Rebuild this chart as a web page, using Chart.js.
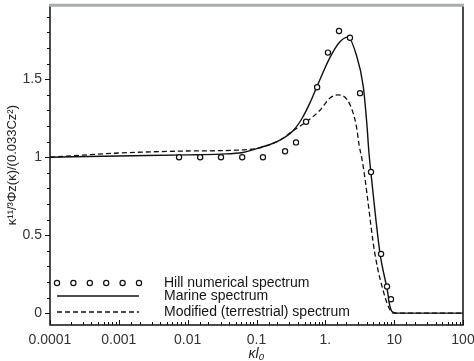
<!DOCTYPE html>
<html><head><meta charset="utf-8">
<script src="https://cdn.jsdelivr.net/npm/chart.js@4"></script>
<style>html,body{margin:0;padding:0;background:#fff}#c{display:block}</style>
</head><body>
<canvas id="c" width="474" height="361" style="width:474px;height:361px"></canvas>
<script>
// ---- data ----
const hillX   = [0.0075, 0.0152, 0.0305, 0.062, 0.124, 0.26, 0.375, 0.525, 0.76, 1.09, 1.58, 2.28, 3.19, 4.61, 6.45, 7.87, 9.0];
const hillY   = [1.0, 1.0, 1.0, 1.0, 1.0, 1.038, 1.095, 1.228, 1.449, 1.671, 1.81, 1.766, 1.411, 0.905, 0.38, 0.171, 0.089];

const marineX = [0.0001, 0.001, 0.01, 0.03, 0.063, 0.11, 0.22, 0.34, 0.46, 0.6, 0.76, 1.17, 1.63, 2.14, 2.8, 3.55, 4.0, 4.3, 4.6, 6.24, 8.1, 8.5, 9.5, 11, 100];
const marineY = [1.0, 1.008, 1.015, 1.02, 1.03, 1.06, 1.11, 1.17, 1.25, 1.35, 1.456, 1.64, 1.74, 1.77, 1.66, 1.456, 1.22, 1.03, 0.9, 0.38, 0.127, 0.063, 0.006, 0, 0];

const modX    = [0.0001, 0.001, 0.01, 0.05, 0.11, 0.22, 0.34, 0.54, 0.83, 1.17, 1.53, 2.07, 2.55, 2.85, 3.1, 3.4, 3.78, 4.04, 5.25, 7.4, 8.5, 9.6, 100];
const modY    = [1.0, 1.027, 1.04, 1.045, 1.06, 1.11, 1.17, 1.23, 1.30, 1.38, 1.40, 1.37, 1.28, 1.19, 1.076, 0.99, 0.86, 0.76, 0.38, 0.10, 0.03, 0, 0];

const seriesLabels = ['Hill numerical spectrum', 'Marine spectrum', 'Modified (terrestrial) spectrum'];

const xTickValues = [0.0001, 0.001, 0.01, 0.1, 1, 10, 100];
const xTickLabels = ['0.0001', '0.001', '0.01', '0.1', '1.', '10', '100'];
const yTickValues = [0, 0.1, 0.2, 0.3, 0.4, 0.5, 0.6, 0.7, 0.8, 0.9, 1.0, 1.1, 1.2, 1.3, 1.4, 1.5, 1.6, 1.7, 1.8, 1.9];
const yLabelValues = [0, 0.5, 1, 1.5];
const yLabelTexts  = ['0', '0.5', '1', '1.5'];

const xTitle = 'κl₀';
const yTitle = 'κ¹¹/³Φz(κ)/(0.033Cz²)';

// ---- helpers ----
const pts = (xs, ys) => xs.map((x, i) => ({x, y: ys[i]}));
const near = (a, b) => Math.abs(a - b) < 1e-9 * Math.max(1, Math.abs(b));
const xLabelFor = v => { const i = xTickValues.findIndex(t => near(v, t)); return i >= 0 ? xTickLabels[i] : ''; };
const yLabelFor = v => { const i = yLabelValues.findIndex(t => Math.abs(v - t) < 1e-6); return i >= 0 ? yLabelTexts[i] : ''; };

const FONT = '"Liberation Sans", Arial, sans-serif';

const framePlugin = {
  id: 'frame',
  afterDraw(chart) {
    const {ctx, chartArea: a, scales: {x, y}} = chart;
    ctx.save();
    ctx.strokeStyle = '#111'; ctx.lineWidth = 1.5;
    ctx.beginPath();
    ctx.moveTo(a.left, a.top); ctx.lineTo(a.left, a.bottom); ctx.lineTo(a.right, a.bottom); ctx.lineTo(a.right, a.top);
    ctx.stroke();
    ctx.strokeStyle = '#a6aeae'; ctx.lineWidth = 3;
    ctx.beginPath(); ctx.moveTo(a.left - 1, a.top); ctx.lineTo(a.right + 1, a.top); ctx.stroke();
    ctx.strokeStyle = '#111'; ctx.lineWidth = 1;
    ctx.beginPath();
    x.ticks.forEach(t => {
      const px = Math.round(x.getPixelForValue(t.value)) + 0.5;
      const major = xLabelFor(t.value) !== '';
      ctx.moveTo(px, a.bottom); ctx.lineTo(px, a.bottom - (major ? 5 : 3));
    });
    y.ticks.forEach(t => {
      const py = Math.round(y.getPixelForValue(t.value)) + 0.5;
      const major = yLabelFor(t.value) !== '';
      ctx.moveTo(a.left, py); ctx.lineTo(a.left - (major ? 5 : 3), py);
    });
    ctx.stroke();
    // legend
    const lx0 = a.left + 7, lx1 = a.left + 89, tx = a.left + 114;
    const rows = [a.bottom - 42, a.bottom - 29, a.bottom - 13];
    const ds = chart.data.datasets;
    ctx.font = '14px ' + FONT; ctx.textBaseline = 'middle'; ctx.textAlign = 'left';
    ctx.lineWidth = 1.2; ctx.strokeStyle = '#111';
    for (let i = 0; i < 6; i++) {
      const cx = lx0 + i * (lx1 - lx0) / 5;
      ctx.beginPath(); ctx.arc(cx, rows[0], 2.6, 0, Math.PI * 2); ctx.fillStyle = '#fff'; ctx.fill(); ctx.stroke();
    }
    ctx.fillStyle = '#151515';
    ctx.fillText(ds[0].label, tx, rows[0]);
    ctx.lineWidth = 1.4;
    ctx.beginPath(); ctx.moveTo(lx0, rows[1]); ctx.lineTo(lx1, rows[1]); ctx.stroke();
    ctx.fillText(ds[1].label, tx, rows[1]);
    ctx.setLineDash([5, 3]);
    ctx.beginPath(); ctx.moveTo(lx0, rows[2]); ctx.lineTo(lx1, rows[2]); ctx.stroke();
    ctx.setLineDash([]);
    ctx.fillText(ds[2].label, tx, rows[2]);
    ctx.restore();
  }
};

new Chart(document.getElementById('c'), {
  type: 'scatter',
  data: {
    datasets: [
      {label: seriesLabels[0], data: pts(hillX, hillY), showLine: false, pointStyle: 'circle', pointRadius: 2.6,
       pointBorderWidth: 1.2, pointBorderColor: '#111', pointBackgroundColor: '#fff', order: 0},
      {label: seriesLabels[1], data: pts(marineX, marineY), showLine: true, borderColor: '#111', borderWidth: 1.4,
       pointRadius: 0, cubicInterpolationMode: 'monotone', order: 2},
      {label: seriesLabels[2], data: pts(modX, modY), showLine: true, borderColor: '#111', borderWidth: 1.3,
       borderDash: [5, 3], pointRadius: 0, cubicInterpolationMode: 'monotone', order: 1}
    ]
  },
  options: {
    responsive: false, animation: false, devicePixelRatio: 1,
    layout: {padding: {top: 1, right: 11, left: 0, bottom: 0}},
    plugins: {legend: {display: false}, tooltip: {enabled: false}},
    scales: {
      x: {
        type: 'logarithmic', min: 0.0001, max: 100,
        grid: {display: true, drawOnChartArea: false, drawTicks: false, color: 'rgba(0,0,0,0)'},
        border: {display: false},
        afterFit: s => { s.height = 36; s.paddingLeft = 0; s.paddingRight = 0; },
        ticks: {autoSkip: false, maxRotation: 0, minRotation: 0, padding: 7, color: '#333',
                font: {family: FONT, size: 14}, callback: v => xLabelFor(v)},
        title: {display: true, text: xTitle, color: '#222', font: {family: FONT, size: 14, style: 'italic', lineHeight: 1},
                padding: {top: 0, bottom: 0}}
      },
      y: {
        type: 'linear', min: -0.076, max: 1.975,
        afterBuildTicks: s => { s.ticks = yTickValues.map(v => ({value: v})); },
        afterFit: s => { s.width = 50; s.paddingTop = 0; s.paddingBottom = 0; },
        grid: {display: true, drawOnChartArea: false, drawTicks: false, color: 'rgba(0,0,0,0)'},
        border: {display: false},
        ticks: {autoSkip: false, padding: 8, color: '#333', font: {family: FONT, size: 14}, callback: v => yLabelFor(v)},
        title: {display: true, text: yTitle, color: '#222', font: {family: FONT, size: 13, lineHeight: 1},
                padding: {top: 6, bottom: 0}}
      }
    }
  },
  plugins: [framePlugin]
});
</script>
</body></html>
